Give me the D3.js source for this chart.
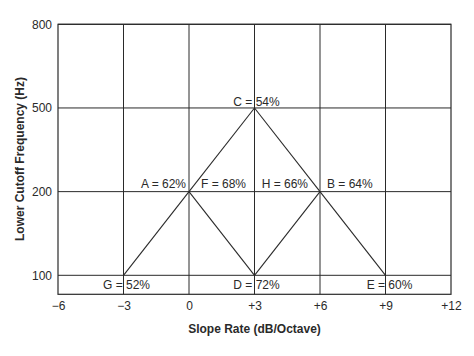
<!DOCTYPE html>
<html><head><meta charset="utf-8">
<script src="https://cdn.jsdelivr.net/npm/d3@7"></script>
<style>
html,body{margin:0;padding:0;background:#fff;}
svg{display:block;font-family:"Liberation Sans",Arial,Helvetica,sans-serif;}
</style></head>
<body>
<svg id="chart" width="474" height="356"></svg>
<script>
// ---- data ----
const xTicks = [-6, -3, 0, 3, 6, 9, 12];
const xTickLabels = ["\u22126", "\u22123", "0", "+3", "+6", "+9", "+12"];
const yTicks = ["100", "200", "500", "800"];
const pointNames = ["G", "A", "F", "C", "D", "H", "B", "E"];
const pointSlope = [-3, 0, 0, 3, 3, 6, 6, 9];
const pointFreq  = ["100", "200", "200", "500", "100", "200", "200", "100"];
const pointPct   = [52, 62, 68, 54, 72, 66, 64, 60];
const segFrom = ["G", "A", "C", "B", "A", "D"];
const segTo   = ["A", "C", "B", "E", "D", "B"];
const xTitle = "Slope Rate (dB/Octave)";
const yTitle = "Lower Cutoff Frequency (Hz)";

// ---- layout ----
const svg = d3.select("#chart");
const pL = 58, pR = 451, pT = 24.3, pB = 294.3, y100 = 275.3;
const x = d3.scaleLinear().domain([-6, 12]).range([pL, pR]);
const y = d3.scalePoint().domain(yTicks).range([y100, pT]);
const ink = "#2a2a2a";

const pts = pointNames.map((n, i) => ({name: n, sx: pointSlope[i], f: pointFreq[i], pct: pointPct[i]}));
const byName = Object.fromEntries(pts.map(p => [p.name, p]));

// grid
const g = svg.append("g");
g.selectAll("line.v").data(xTicks.slice(1, -1)).join("line")
  .attr("x1", d => x(d)).attr("x2", d => x(d)).attr("y1", pT).attr("y2", pB)
  .attr("stroke", ink).attr("stroke-width", 1);
g.selectAll("line.h").data(yTicks).join("line")
  .attr("x1", pL).attr("x2", pR).attr("y1", d => y(d)).attr("y2", d => y(d))
  .attr("stroke", ink).attr("stroke-width", 1);
g.append("rect").attr("x", pL).attr("y", pT).attr("width", pR - pL).attr("height", pB - pT)
  .attr("fill", "none").attr("stroke", ink).attr("stroke-width", 1.2);

// axes (labels only)
const xAxis = d3.axisBottom(x).tickValues(xTicks).tickSize(0).tickPadding(7)
  .tickFormat((d, i) => xTickLabels[i]);
const xa = svg.append("g").attr("transform", `translate(0,${pB})`).call(xAxis);
xa.select(".domain").remove();
xa.selectAll("text").attr("font-size", 12).attr("fill", ink).attr("font-family", null);

const yAxis = d3.axisLeft(y).tickSize(0).tickPadding(6);
const ya = svg.append("g").attr("transform", `translate(${pL},0)`).call(yAxis);
ya.select(".domain").remove();
ya.selectAll("text").attr("font-size", 12).attr("fill", ink).attr("font-family", null);

// lines
const line = d3.line().x(d => x(d.sx)).y(d => y(d.f));
svg.selectAll("path.seg").data(segFrom.map((s, i) => [byName[s], byName[segTo[i]]])).join("path")
  .attr("d", line).attr("fill", "none").attr("stroke", ink).attr("stroke-width", 1.1);

// labels
const labelAnchor = {G: "middle", A: "end", F: "start", C: "middle", D: "middle", H: "end", B: "start", E: "middle"};
const labelDx = {G: 3, A: -3, F: 12, C: 2, D: 2, H: -12, B: 7, E: 4};
svg.selectAll("text.pl").data(pts).join("text")
  .attr("x", d => x(d.sx) + labelDx[d.name])
  .attr("y", d => d.f === "100" ? y(d.f) + 14 : (d.f === "500" ? y(d.f) - 2 : y(d.f) - 4))
  .attr("text-anchor", d => labelAnchor[d.name])
  .attr("font-size", 12).attr("fill", ink)
  .text(d => `${d.name} = ${d.pct}%`);

// titles
svg.append("text").attr("x", (pL + pR) / 2).attr("y", 333).attr("text-anchor", "middle")
  .attr("font-size", 12).attr("font-weight", "bold").attr("fill", ink).text(xTitle);
svg.append("text").attr("transform", `translate(24,159) rotate(-90)`).attr("text-anchor", "middle")
  .attr("font-size", 12).attr("font-weight", "bold").attr("fill", ink).text(yTitle);
</script>
</body></html>
